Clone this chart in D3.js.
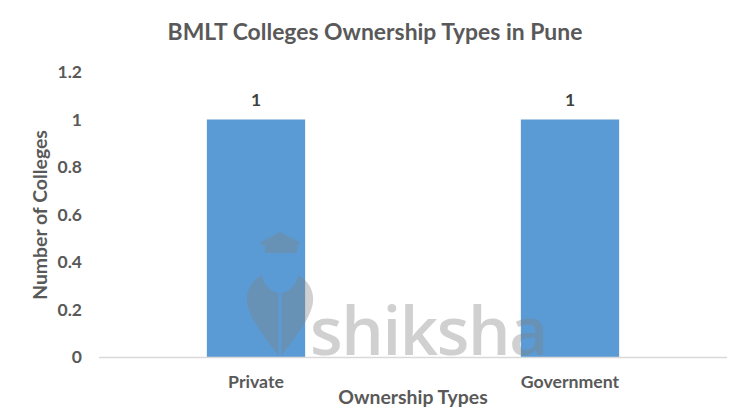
<!DOCTYPE html>
<html><head><meta charset="utf-8"><script src="https://cdn.jsdelivr.net/npm/d3@7"></script>
<style>html,body{margin:0;background:#fff}svg{display:block}text{font-family:Lato,sans-serif;font-weight:700;fill:#595959}</style></head>
<body><svg id="c" width="750" height="413"></svg>
<script>
const categories=["Private","Government"];
const values=[1,1];
const ticks=[0,0.2,0.4,0.6,0.8,1,1.2];
const watermark="shiksha";
const svg=d3.select("#c");
const x=d3.scaleBand().domain(categories).range([99,727]).paddingInner(0.687).paddingOuter(0.3435);
const y=d3.scaleLinear().domain([0,1.2]).range([357,72]);
svg.selectAll("rect.b").data(values).join("rect").attr("class","b").attr("x",(d,i)=>x(categories[i])).attr("width",x.bandwidth()).attr("y",d=>y(d)).attr("height",d=>y(0)-y(d)).attr("fill","#5b9bd5");
svg.append("line").attr("x1",99).attr("x2",727).attr("y1",357.5).attr("y2",357.5).attr("stroke","#d9d9d9").attr("stroke-width",1.5);
svg.selectAll("text.y").data(ticks).join("text").attr("class","y").attr("x",82).attr("y",d=>y(d)+6).attr("text-anchor","end").attr("font-size",17.5).text(d=>d);
svg.selectAll("text.x").data(categories).join("text").attr("class","x").attr("x",d=>x(d)+x.bandwidth()/2).attr("y",387.5).attr("text-anchor","middle").attr("font-size",17.7).text(d=>d);
svg.selectAll("text.v").data(values).join("text").attr("class","v").attr("x",(d,i)=>x(categories[i])+x.bandwidth()/2).attr("y",d=>y(d)-14).attr("text-anchor","middle").attr("font-size",17.5).style("fill","#404040").text(d=>d);
svg.append("text").attr("x",375).attr("y",40).attr("text-anchor","middle").attr("font-size",22.9).text("BMLT Colleges Ownership Types in Pune");
svg.append("text").attr("x",413).attr("y",404).attr("text-anchor","middle").attr("font-size",19.4).text("Ownership Types");
svg.append("text").attr("transform","translate(47,215) rotate(-90)").attr("text-anchor","middle").attr("font-size",19.4).text("Number of Colleges");
// watermark
const wm=svg.append("g").attr("opacity",0.36);
wm.append("text").attr("x",310).attr("y",355).attr("font-size",67).attr("textLength",238).attr("lengthAdjust","spacing").style("fill","#808080").style("font-family","'Open Sans',sans-serif").style("font-weight",600).text(watermark);
wm.append("path").attr("fill","#808080").attr("d","M259 243 L280 232 L301 243 L297 245 L297 253 L265 253 L265 246 Z");
wm.append("path").attr("fill","#808080").attr("d","M278.5 356 L278.5 293 C270 292 264 285 262 275 C251 281 246 291 247 302 C249 320 268 340 278.5 356 Z");
wm.append("path").attr("fill","#808080").attr("d","M281.5 356 L281.5 293 C290 292 296 285 298 275 C309 281 314 291 313 302 C311 320 292 340 281.5 356 Z");
</script></body></html>
